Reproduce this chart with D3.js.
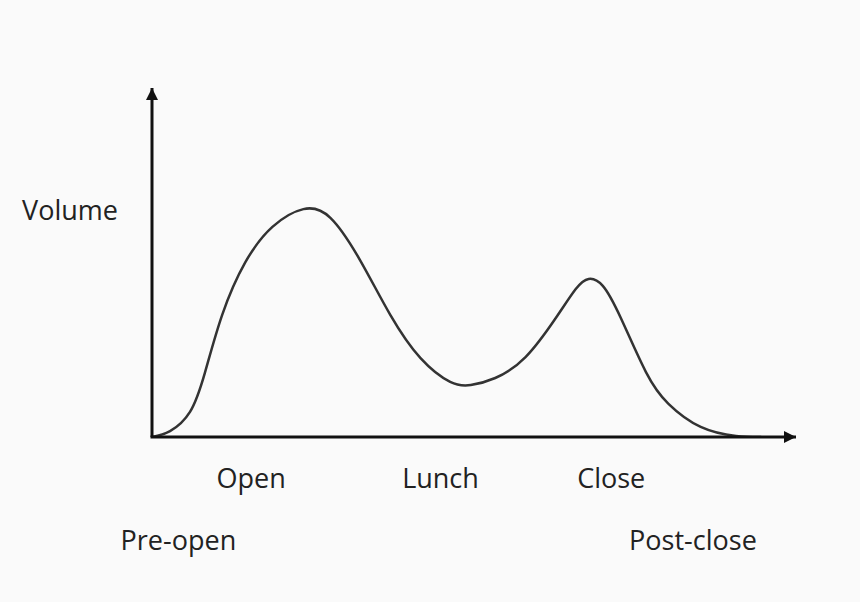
<!DOCTYPE html>
<html>
<head>
<meta charset="utf-8">
<script src="https://cdn.jsdelivr.net/npm/d3@7"></script>
<style>
  html, body { margin: 0; padding: 0; background: #fafafa; }
  svg { display: block; }
</style>
</head>
<body>
<div id="chart"></div>
<script>
// intraday volume profile, time and volume in arbitrary 0-100 units
const times = [0, 2.8, 5.9, 8.2, 10.9, 14.5, 18.7, 23.5, 27.7, 32.3, 37.0, 41.7, 46.3, 49.5,
  53.3, 58.0, 62.7, 65.8, 67.8, 70.0, 72.8, 76.7, 80.2, 85.2, 90.7, 94.6];
const volumes = [0, 1.7, 7.2, 18.3, 35.0, 50.1, 60.2, 65.3, 62.8, 50.7, 35.0, 22.6, 15.8, 14.9,
  16.9, 22.9, 34.1, 42.4, 45.3, 43.3, 34.1, 18.6, 9.5, 2.9, 0.3, 0];

const sessionLabels = ["Open", "Lunch", "Close"];
const sessionTimes = [15.4, 44.8, 71.3];
const outerLabels = ["Pre-open", "Post-close"];
const outerTimes = [4.1, 84.0];
const yLabel = "Volume";
const yLabelValue = 65;

const width = 860;
const height = 602;

const x = d3.scaleLinear().domain([0, 100]).range([152, 796]);
const y = d3.scaleLinear().domain([0, 100]).range([437, 88]);

const svg = d3.select("#chart").append("svg")
    .attr("width", width)
    .attr("height", height);

const defs = svg.append("defs");

// arrow head for the axes
defs.append("marker")
    .attr("id", "arrow")
    .attr("viewBox", "0 0 10 10")
    .attr("refX", 10)
    .attr("refY", 5)
    .attr("markerUnits", "userSpaceOnUse")
    .attr("markerWidth", 14)
    .attr("markerHeight", 12)
    .attr("orient", "auto")
  .append("path")
    .attr("d", "M0,0L10,5L0,10Z")
    .attr("fill", "#111");

// keep the spline from dipping under the x axis
defs.append("clipPath")
    .attr("id", "plot")
  .append("rect")
    .attr("x", x(0))
    .attr("y", y(100))
    .attr("width", x(100) - x(0))
    .attr("height", y(0) - y(100));

// the volume curve
const line = d3.line()
    .x((d, i) => x(times[i]))
    .y(d => y(Math.max(0, d)))
    .curve(d3.curveNatural);

svg.append("path")
    .datum(volumes)
    .attr("clip-path", "url(#plot)")
    .attr("fill", "none")
    .attr("stroke", "#333")
    .attr("stroke-width", 2.5)
    .attr("d", line);

const axes = svg.append("g")
    .attr("stroke", "#111")
    .attr("stroke-width", 3);

axes.append("line")
    .attr("x1", x(0)).attr("y1", y(0))
    .attr("x2", x(0)).attr("y2", y(100))
    .attr("marker-end", "url(#arrow)");

axes.append("line")
    .attr("x1", x(0) - 1.5).attr("y1", y(0))
    .attr("x2", x(100)).attr("y2", y(0))
    .attr("marker-end", "url(#arrow)");

const font = "'Open Sans', 'Noto Sans', sans-serif";

svg.append("text")
    .attr("x", 70)
    .attr("y", y(yLabelValue) + 10)
    .attr("text-anchor", "middle")
    .attr("font-family", font)
    .attr("font-size", 27)
    .attr("fill", "#222")
    .text(yLabel);

svg.selectAll(".session")
    .data(sessionLabels)
    .enter()
    .append("text")
    .attr("class", "session")
    .attr("x", (d, i) => x(sessionTimes[i]))
    .attr("y", 488)
    .attr("text-anchor", "middle")
    .attr("font-family", font)
    .attr("font-size", 27)
    .attr("fill", "#222")
    .text(d => d);

svg.selectAll(".outer")
    .data(outerLabels)
    .enter()
    .append("text")
    .attr("class", "outer")
    .attr("x", (d, i) => x(outerTimes[i]))
    .attr("y", 550)
    .attr("text-anchor", "middle")
    .attr("font-family", font)
    .attr("font-size", 27)
    .attr("fill", "#222")
    .text(d => d);
</script>
</body>
</html>
